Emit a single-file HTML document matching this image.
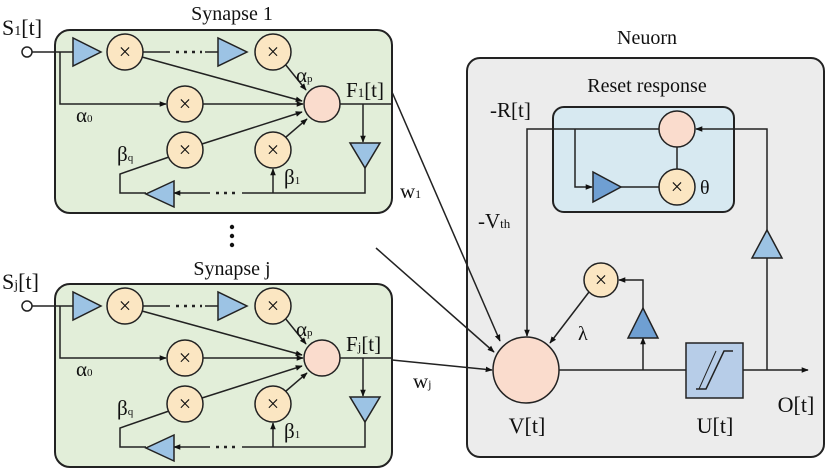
<!DOCTYPE html>
<html><head><meta charset="utf-8"><style>
html,body{margin:0;padding:0;background:#fff}
svg{display:block}
text{font-family:"Liberation Serif",serif;fill:#111}
</style></head><body>
<svg width="827" height="470" viewBox="0 0 827 470" xmlns="http://www.w3.org/2000/svg" font-family="Liberation Serif, serif">
<defs>
<marker id="a" viewBox="0 0 10 10" refX="9" refY="5" markerWidth="7" markerHeight="7" orient="auto" markerUnits="userSpaceOnUse"><path d="M0,1 L10,5 L0,9 z" fill="#111"/></marker>
</defs>
<g id="s1">
<rect x="55" y="30" width="337" height="183" rx="15" fill="#e2eed9" stroke="#222" stroke-width="2"/>
<circle cx="27" cy="52" r="5" fill="#fff" stroke="#222" stroke-width="1.5"/>
<g stroke="#222" stroke-width="1.5" fill="none">
<line x1="32" y1="52" x2="73" y2="52"/>
<polyline points="60,52 60,104 166,104" marker-end="url(#a)"/>
<line x1="143" y1="52" x2="170" y2="52"/>
<line x1="176" y1="52" x2="202" y2="52" stroke-dasharray="3,5" stroke-width="2.5"/>
<line x1="205" y1="52" x2="218" y2="52"/>
<line x1="142" y1="57" x2="302" y2="101" marker-end="url(#a)"/>
<line x1="285" y1="64" x2="306" y2="90" marker-end="url(#a)"/>
<line x1="203" y1="104" x2="303" y2="104" marker-end="url(#a)"/>
<line x1="202" y1="144" x2="302" y2="112" marker-end="url(#a)"/>
<line x1="286" y1="137" x2="307" y2="119" marker-end="url(#a)"/>
<line x1="340" y1="104" x2="392" y2="104"/>
<line x1="363" y1="104" x2="363" y2="142" marker-end="url(#a)"/>
<polyline points="365,168 365,193 242,193"/>
<line x1="273" y1="193" x2="273" y2="169" marker-end="url(#a)"/>
<line x1="216" y1="193" x2="240" y2="193" stroke-dasharray="3,5" stroke-width="2.5"/>
<line x1="210" y1="193" x2="174" y2="193" marker-end="url(#a)"/>
<polyline points="146,193 120,193 120,174 169,157"/>
</g>
<g fill="#9cc3e4" stroke="#222" stroke-width="1.5">
<polygon points="73,38 73,66 101,52"/>
<polygon points="218,38 218,66 247,52"/>
<polygon points="350,143 380,143 365,168"/>
<polygon points="174,181 174,207 146,194"/>
</g>
<g fill="#fbe6c2" stroke="#222" stroke-width="1.5">
<circle cx="125" cy="52" r="18"/><circle cx="273" cy="52" r="18"/>
<circle cx="185" cy="104" r="18"/><circle cx="185" cy="150" r="18"/><circle cx="273" cy="150" r="18"/>
</g>
<circle cx="322" cy="104" r="18" fill="#fadccd" stroke="#222" stroke-width="1.5"/>
<g font-size="22" text-anchor="middle" fill="#333" font-family="Liberation Serif, serif"><text x="125" y="59">×</text><text x="273" y="59">×</text><text x="185" y="111">×</text><text x="185" y="157">×</text><text x="273" y="157">×</text></g>
<g font-family="Liberation Serif, serif" font-size="21">
<text x="296" y="82">α<tspan font-size="11">p</tspan></text>
<text x="76" y="122">α<tspan font-size="11">0</tspan></text>
<text x="117" y="161">β<tspan font-size="11">q</tspan></text>
<text x="284" y="184">β<tspan font-size="11">1</tspan></text>
</g>
</g>
<g transform="translate(0,254)">
<rect x="55" y="30" width="337" height="183" rx="15" fill="#e2eed9" stroke="#222" stroke-width="2"/>
<circle cx="27" cy="52" r="5" fill="#fff" stroke="#222" stroke-width="1.5"/>
<g stroke="#222" stroke-width="1.5" fill="none">
<line x1="32" y1="52" x2="73" y2="52"/>
<polyline points="60,52 60,104 166,104" marker-end="url(#a)"/>
<line x1="143" y1="52" x2="170" y2="52"/>
<line x1="176" y1="52" x2="202" y2="52" stroke-dasharray="3,5" stroke-width="2.5"/>
<line x1="205" y1="52" x2="218" y2="52"/>
<line x1="142" y1="57" x2="302" y2="101" marker-end="url(#a)"/>
<line x1="285" y1="64" x2="306" y2="90" marker-end="url(#a)"/>
<line x1="203" y1="104" x2="303" y2="104" marker-end="url(#a)"/>
<line x1="202" y1="144" x2="302" y2="112" marker-end="url(#a)"/>
<line x1="286" y1="137" x2="307" y2="119" marker-end="url(#a)"/>
<line x1="340" y1="104" x2="392" y2="104"/>
<line x1="363" y1="104" x2="363" y2="142" marker-end="url(#a)"/>
<polyline points="365,168 365,193 242,193"/>
<line x1="273" y1="193" x2="273" y2="169" marker-end="url(#a)"/>
<line x1="216" y1="193" x2="240" y2="193" stroke-dasharray="3,5" stroke-width="2.5"/>
<line x1="210" y1="193" x2="174" y2="193" marker-end="url(#a)"/>
<polyline points="146,193 120,193 120,174 169,157"/>
</g>
<g fill="#9cc3e4" stroke="#222" stroke-width="1.5">
<polygon points="73,38 73,66 101,52"/>
<polygon points="218,38 218,66 247,52"/>
<polygon points="350,143 380,143 365,168"/>
<polygon points="174,181 174,207 146,194"/>
</g>
<g fill="#fbe6c2" stroke="#222" stroke-width="1.5">
<circle cx="125" cy="52" r="18"/><circle cx="273" cy="52" r="18"/>
<circle cx="185" cy="104" r="18"/><circle cx="185" cy="150" r="18"/><circle cx="273" cy="150" r="18"/>
</g>
<circle cx="322" cy="104" r="18" fill="#fadccd" stroke="#222" stroke-width="1.5"/>
<g font-size="22" text-anchor="middle" fill="#333" font-family="Liberation Serif, serif"><text x="125" y="59">×</text><text x="273" y="59">×</text><text x="185" y="111">×</text><text x="185" y="157">×</text><text x="273" y="157">×</text></g>
<g font-family="Liberation Serif, serif" font-size="21">
<text x="296" y="82">α<tspan font-size="11">p</tspan></text>
<text x="76" y="122">α<tspan font-size="11">0</tspan></text>
<text x="117" y="161">β<tspan font-size="11">q</tspan></text>
<text x="284" y="184">β<tspan font-size="11">1</tspan></text>
</g>
</g>
<text x="232" y="20" font-size="20" text-anchor="middle">Synapse 1</text>
<text x="232" y="275" font-size="20" text-anchor="middle">Synapse j</text>
<text x="2" y="35" font-size="22">S<tspan font-size="14">1</tspan>[t]</text>
<text x="2" y="289" font-size="22">S<tspan font-size="14">j</tspan>[t]</text>
<text x="346" y="97" font-size="21">F<tspan font-size="13">1</tspan>[t]</text>
<text x="346" y="351" font-size="21">F<tspan font-size="13">j</tspan>[t]</text>
<circle cx="232" cy="227" r="2.2" fill="#111"/><circle cx="232" cy="236" r="2.2" fill="#111"/><circle cx="232" cy="245" r="2.2" fill="#111"/>
<text x="400" y="198" font-size="21">w<tspan font-size="12">1</tspan></text>
<text x="413" y="388" font-size="21">w<tspan font-size="12">j</tspan></text>
<!-- neuron -->
<text x="647" y="44" font-size="20" text-anchor="middle">Neuorn</text>
<rect x="467" y="58" width="357" height="399" rx="13" fill="#ececec" stroke="#222" stroke-width="2"/>
<text x="647" y="92" font-size="20" text-anchor="middle">Reset response</text>
<rect x="553" y="107" width="181" height="105" rx="11" fill="#d7e9f1" stroke="#222" stroke-width="2"/>
<g stroke="#222" stroke-width="1.5" fill="none">
<line x1="392" y1="92" x2="500" y2="341" marker-end="url(#a)"/>
<line x1="376" y1="248" x2="494" y2="352" marker-end="url(#a)"/>
<line x1="392" y1="360" x2="492" y2="370" marker-end="url(#a)"/>
<polyline points="659,129 527,129 527,336" marker-end="url(#a)"/>
<polyline points="575,129 575,187 592,187" marker-end="url(#a)"/>
<line x1="620" y1="187" x2="659" y2="187"/>
<line x1="677" y1="147" x2="677" y2="169"/>
<line x1="559" y1="370" x2="686" y2="370"/>
<line x1="643" y1="370" x2="643" y2="338" marker-end="url(#a)"/>
<polyline points="643,310 643,280 619,280" marker-end="url(#a)"/>
<line x1="589" y1="292" x2="550" y2="343" marker-end="url(#a)"/>
<line x1="743" y1="370" x2="808" y2="370" marker-end="url(#a)"/>
<polyline points="767,370 767,258"/>
<polyline points="767,230 767,129 696,129" marker-end="url(#a)"/>
</g>
<g fill="#9cc3e4" stroke="#222" stroke-width="1.5">
<polygon points="593,172 593,202 621,187" fill="#6f9fd2"/>
<polygon points="628,338 658,338 643,308" fill="#6f9fd2"/>
<polygon points="752,258 782,258 767,230"/>
</g>
<rect x="686" y="343" width="57" height="55" fill="#b7cde8" stroke="#222" stroke-width="1.5"/>
<polyline points="696,389 706,389 724,351 733,351" fill="none" stroke="#222" stroke-width="1.5"/>
<polyline points="699,389 716,351" fill="none" stroke="#222" stroke-width="1"/>
<circle cx="677" cy="129" r="18" fill="#fadccd" stroke="#222" stroke-width="1.5"/>
<circle cx="677" cy="187" r="18" fill="#fbe6c2" stroke="#222" stroke-width="1.5"/>
<circle cx="601" cy="280" r="17" fill="#fbe6c2" stroke="#222" stroke-width="1.5"/>
<circle cx="526" cy="370" r="33" fill="#fadccd" stroke="#222" stroke-width="1.5"/>
<text x="677" y="194" font-size="22" text-anchor="middle" fill="#333">×</text>
<text x="601" y="287" font-size="22" text-anchor="middle" fill="#333">×</text>
<text x="700" y="194" font-size="20">θ</text>
<text x="578" y="340" font-size="20">λ</text>
<text x="490" y="117" font-size="21">-R[t]</text>
<text x="478" y="228" font-size="21">-V<tspan font-size="13">th</tspan></text>
<text x="527" y="433" font-size="22" text-anchor="middle">V[t]</text>
<text x="715" y="433" font-size="22" text-anchor="middle">U[t]</text>
<text x="796" y="412" font-size="22" text-anchor="middle">O[t]</text>
</svg>
</body></html>
